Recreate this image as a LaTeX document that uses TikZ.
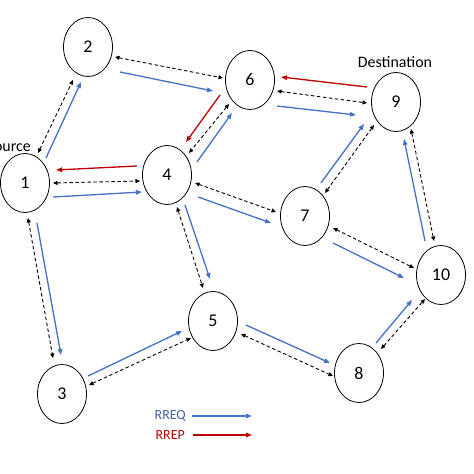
\documentclass[tikz,border=0pt]{standalone}
\usepackage{fontspec}
\setmainfont{Carlito}
\usetikzlibrary{arrows.meta,shapes.geometric}
\definecolor{reqblue}{RGB}{68,114,196}
\definecolor{repred}{RGB}{192,0,0}
\definecolor{reqtext}{RGB}{70,100,160}
\newcommand\myconn[5]{\draw[#1] ([shift={(#3)}]#2.center) -- ([shift={(#5)}]#4.center);}
\begin{document}
\begin{tikzpicture}[x=1bp,y=-1bp,
  nd/.style={draw,ellipse,line width=0.8bp,minimum width=49bp,minimum height=59bp,inner sep=0pt,font=\fontsize{18}{20}\selectfont},
  lbl/.style={font=\fontsize{16}{18}\selectfont,inner sep=0pt},
  req/.style={reqblue,line width=1.3bp,-{Triangle[length=6bp,width=4.5bp]}},
  rep/.style={repred,line width=1.3bp,-{Triangle[length=6bp,width=4.5bp]}},
  bid/.style={black,line width=0.9bp,dash pattern=on 3.5bp off 2.5bp,{Triangle[length=4.5bp,width=4bp]}-{Triangle[length=4.5bp,width=4bp]}}]
\useasboundingbox (0,0) rectangle (474,474);
\clip (0,0) rectangle (474,474);
\node[nd] (n1) at (25,183) {1};
\node[nd] (n2) at (88,47) {2};
\node[nd] (n3) at (62,394) {3};
\node[nd] (n4) at (167,175) {4};
\node[nd] (n5) at (213,321) {5};
\node[nd] (n6) at (250,80) {6};
\node[nd] (n7) at (305,216) {7};
\node[nd] (n8) at (359,373) {8};
\node[nd] (n9) at (396,102) {9};
\node[nd] (n10) at (441,275) {10};
\node[lbl,anchor=east] (src) at (31,146) {Source};
\node[lbl] (dst) at (395,62) {Destination};
% 1-2
\myconn{bid}{n1}{13,-30}{n2}{-15,33}
\myconn{req}{n1}{21,-25}{n2}{-7,35}
% 2-6
\myconn{bid}{n2}{27,10}{n6}{-27,-2}
\myconn{req}{n2}{32,25}{n6}{-37,11}
% 1-4
\myconn{rep}{n4}{-30,-9}{n1}{31,-13}
\myconn{bid}{n1}{28,0}{n4}{-27,6}
\myconn{req}{n1}{28,14}{n4}{-25,17}
% 4-6
\myconn{rep}{n6}{-30,15}{n4}{19,-33}
\myconn{bid}{n6}{-21,24}{n4}{22,-22}
\myconn{req}{n4}{30,-13}{n6}{-18,33}
% 6-9
\myconn{rep}{n9}{-29,-15}{n6}{31,-3}
\myconn{bid}{n6}{27,11}{n9}{-29,1}
\myconn{req}{n6}{27,26}{n9}{-40,13}
% 7-9
\myconn{req}{n7}{16,-33}{n9}{-32,22}
\myconn{bid}{n7}{20,-23}{n9}{-22,23}
% 4-7
\myconn{bid}{n4}{28,8}{n7}{-29,-4}
\myconn{req}{n4}{31,22}{n7}{-34,7}
% 9-10
\myconn{bid}{n9}{15,27}{n10}{-7,-34}
\myconn{req}{n10}{-16,-34}{n9}{8,37}
% 7-10
\myconn{bid}{n7}{28,12}{n10}{-27,-7}
\myconn{req}{n7}{28,27}{n10}{-37,3}
% 4-5
\myconn{bid}{n4}{10,32}{n5}{-10,-33}
\myconn{req}{n4}{18,30}{n5}{-3,-42}
% 1-3
\myconn{bid}{n1}{3,35}{n3}{-9,-36}
\myconn{req}{n1}{12,40}{n3}{-1,-39}
% 3-5
\myconn{req}{n3}{26,-18}{n5}{-31,10}
\myconn{bid}{n3}{27,-9}{n5}{-22,17}
% 5-8
\myconn{req}{n5}{33,4}{n8}{-29,-10}
\myconn{bid}{n5}{28,13}{n8}{-26,3}
% 8-10
\myconn{req}{n8}{17,-30}{n10}{-29,25}
\myconn{bid}{n8}{22,-24}{n10}{-16,24}
% legend
\node[lbl,font=\fontsize{14}{16}\selectfont,text=reqtext,anchor=east] (rreq) at (186,416) {RREQ};
\node[lbl,font=\fontsize{14}{16}\selectfont,text=repred,anchor=east] (rrep) at (185,435) {RREP};
\coordinate (reqend) at (252,416);
\coordinate (repend) at (252,435);
\draw[req] ([xshift=6bp]rreq.east) -- (reqend);
\draw[rep] ([xshift=8bp]rrep.east) -- (repend);
\end{tikzpicture}
\end{document}
